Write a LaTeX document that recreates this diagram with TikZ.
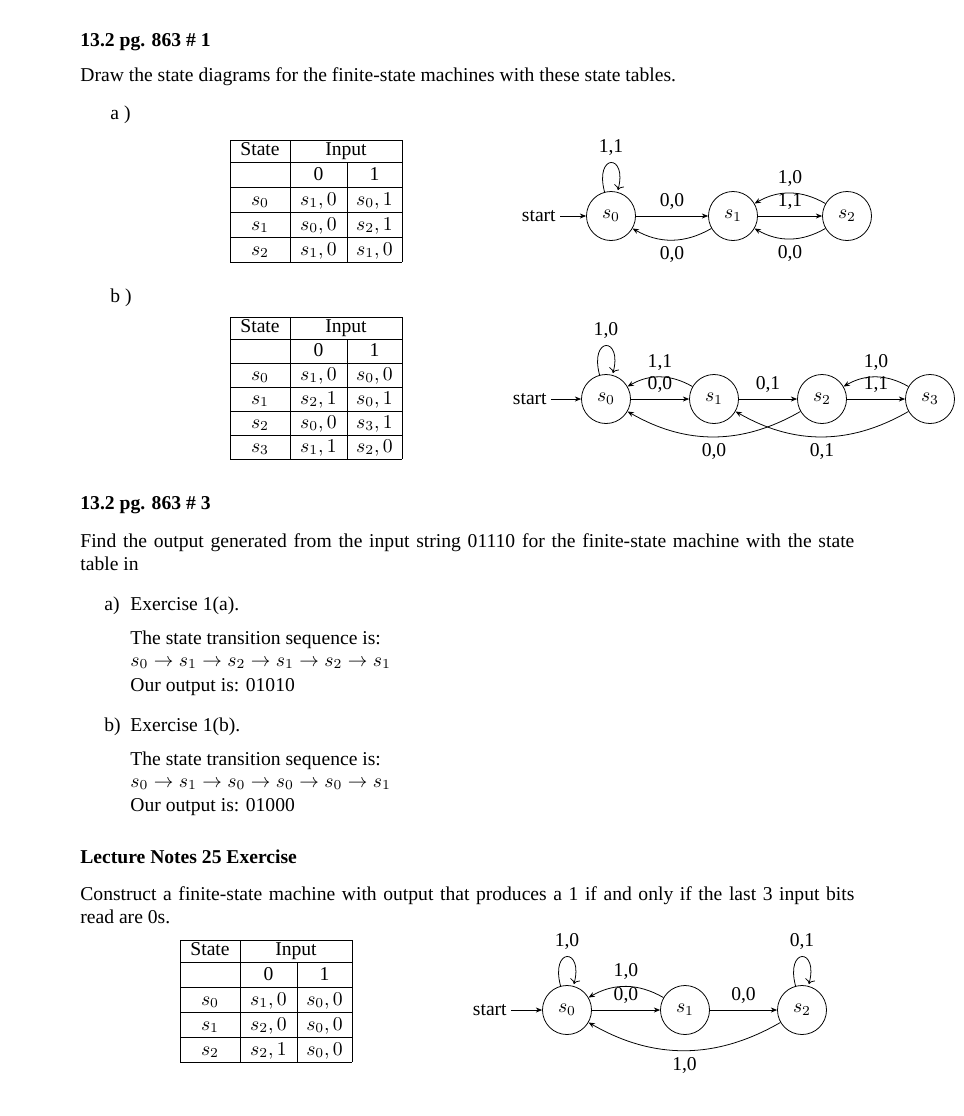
\documentclass[tikz,border=0pt]{standalone}
\usepackage{fontspec}
\setmainfont{Liberation Serif}
\usetikzlibrary{arrows.meta}
\newcommand\fsmtable[5]{% #1 name, #2 shift, #3 row height, #4 number of rows, #5 rows
  \begin{scope}[shift={#2}]
    \pgfmathsetmacro\tblH{22+(#4+1)*#3}
    \node[cell] (#1-st) at (30,15) {State};
    \node[cell] (#1-in) at (116,15) {Input};
    \node[cell] (#1-c0) at (88.5,22+#3-7) {0};
    \node[cell] (#1-c1) at (144.5,22+#3-7) {1};
    \draw[rule] (0,0) -- (172,0) (0,22) -- (172,22) (0,22+#3) -- (172,22+#3);
    \draw[rule] (0,0) -- (0,\tblH) (60,0) -- (60,\tblH) (117,22) -- (117,\tblH) (172,0) -- (172,\tblH);
    \foreach \a/\b/\c [count=\i] in {#5} {
      \node[cell] (#1-\i-s) at (30,{22+(\i+1)*#3-7}) {$\a$};
      \node[cell] (#1-\i-z) at (88.5,{22+(\i+1)*#3-7}) {$\b$};
      \node[cell] (#1-\i-o) at (144.5,{22+(\i+1)*#3-7}) {$\c$};
      \draw[rule] (0,{22+(\i+1)*#3}) -- (172,{22+(\i+1)*#3});
    }
  \end{scope}}
\begin{document}
\begin{tikzpicture}[x=0.51pt,y=-0.51pt,
  font=\fontsize{10}{12}\selectfont,
  txt/.style={anchor=base west,inner sep=0pt},
  cell/.style={anchor=base,inner sep=0pt},
  rule/.style={line width=0.4pt},
  st/.style={circle,draw,line width=0.4pt,minimum size=25pt,inner sep=0pt},
  tr/.style={line width=0.4pt,-{Stealth[length=3.2pt,width=2.6pt]}},
  startnode/.style={anchor=east,inner sep=2pt}]
\fill[white] (0,0) rectangle (964,1116);
\useasboundingbox (0,0) rectangle (964,1116);

% ---------- 13.2 #1 ----------
\node[txt] (h1) at (80,46) {\textbf{13.2 pg. 863 \# 1}};
\node[txt] (p1) at (80,81) {Draw the state diagrams for the finite-state machines with these state tables.};
\node[txt] (la) at (110,119) {a )};
\fsmtable{ta}{(230,140)}{25}{3}{{s_0}/{s_1,0}/{s_0,1},{s_1}/{s_0,0}/{s_2,1},{s_2}/{s_1,0}/{s_1,0}}

\node[st] (a0) at (611,216) {$s_0$};
\node[st] (a1) at (733,216) {$s_1$};
\node[st] (a2) at (847,216) {$s_2$};
\node[startnode] (sa) at (560,216) {start};
\draw[tr] (sa) -- (a0);
\draw[tr] (a0) edge[loop above] node[above] {1,1} (a0)
  (a0) edge node[above] {0,0} (a1)
  (a1) edge[bend left] node[below] {0,0} (a0)
  (a1) edge node[above] {1,1} (a2)
  (a2) edge[bend right] node[above] {1,0} (a1)
  (a2) edge[bend left] node[below] {0,0} (a1);

\node[txt] (lb) at (110,302) {b )};
\fsmtable{tb}{(230,317)}{24}{4}{{s_0}/{s_1,0}/{s_0,0},{s_1}/{s_2,1}/{s_0,1},{s_2}/{s_0,0}/{s_3,1},{s_3}/{s_1,1}/{s_2,0}}

\node[st] (b0) at (606,399) {$s_0$};
\node[st] (b1) at (714,399) {$s_1$};
\node[st] (b2) at (822,399) {$s_2$};
\node[st] (b3) at (930,399) {$s_3$};
\node[startnode] (sb) at (551,399) {start};
\draw[tr] (sb) -- (b0);
\draw[tr] (b0) edge[loop above] node[above] {1,0} (b0)
  (b0) edge node[above] {0,0} (b1)
  (b1) edge[bend right] node[above] {1,1} (b0)
  (b1) edge node[above] {0,1} (b2)
  (b2) edge[bend left] node[below] {0,0} (b0)
  (b2) edge node[above] {1,1} (b3)
  (b3) edge[bend left] node[below] {0,1} (b1)
  (b3) edge[bend right] node[above] {1,0} (b2);

% ---------- 13.2 #3 ----------
\node[txt] (h3) at (80,509) {\textbf{13.2 pg. 863 \# 3}};
\node[txt] (f1) at (80,547) {\hbox to 394.7pt{Find the output generated from the input string 01110 for the finite-state machine with the state}};
\node[txt] (f2) at (80,570) {table in};
\node[txt] (ea) at (104,610) {a)};
\node[txt] (ea2) at (130,610) {Exercise 1(a).};
\node[txt] (ea3) at (130,644) {The state transition sequence is:};
\node[txt] (ea4) at (130,666) {$s_0\rightarrow s_1\rightarrow s_2\rightarrow s_1\rightarrow s_2\rightarrow s_1$};
\node[txt] (ea5) at (130,691) {Our output is: 01010};
\node[txt] (eb) at (104,731) {b)};
\node[txt] (eb2) at (130,731) {Exercise 1(b).};
\node[txt] (eb3) at (130,765) {The state transition sequence is:};
\node[txt] (eb4) at (130,787) {$s_0\rightarrow s_1\rightarrow s_0\rightarrow s_0\rightarrow s_0\rightarrow s_1$};
\node[txt] (eb5) at (130,811) {Our output is: 01000};

% ---------- Lecture notes ----------
\node[txt] (hl) at (80,863) {\textbf{Lecture Notes 25 Exercise}};
\node[txt] (c1t) at (80,900) {\hbox to 394.7pt{Construct a finite-state machine with output that produces a 1 if and only if the last 3 input bits}};
\node[txt] (c2t) at (80,923) {read are 0s.};
\fsmtable{tc}{(180,940)}{25}{3}{{s_0}/{s_1,0}/{s_0,0},{s_1}/{s_2,0}/{s_0,0},{s_2}/{s_2,1}/{s_0,0}}

\node[st] (c0) at (567,1010) {$s_0$};
\node[st] (c1) at (685,1010) {$s_1$};
\node[st] (c2) at (802,1010) {$s_2$};
\node[startnode] (sc) at (511,1010) {start};
\draw[tr] (sc) -- (c0);
\draw[tr] (c0) edge[loop above] node[above] {1,0} (c0)
  (c0) edge node[above] {0,0} (c1)
  (c1) edge[bend right] node[above] {1,0} (c0)
  (c1) edge node[above] {0,0} (c2)
  (c2) edge[loop above] node[above] {0,1} (c2)
  (c2) edge[bend left] node[below] {1,0} (c0);
\end{tikzpicture}
\end{document}
